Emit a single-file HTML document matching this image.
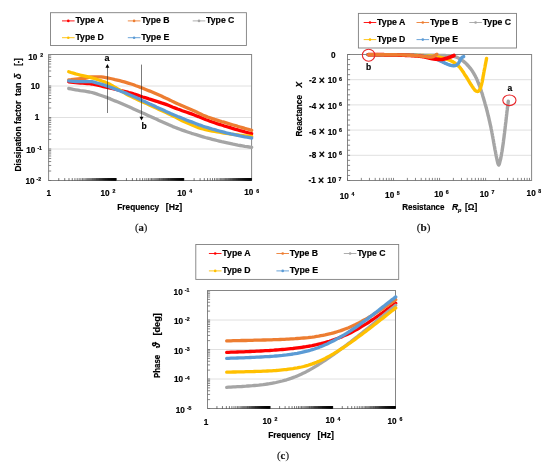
<!DOCTYPE html>
<html><head><meta charset="utf-8"><title>Figure</title>
<style>
html,body{margin:0;padding:0;background:#fff;}
svg{display:block;font-family:"Liberation Sans", sans-serif;}
text{stroke:#000;stroke-width:0.18px;}
.cap{stroke:#111;stroke-width:0.12px;}
</style></head><body>
<svg width="550" height="465" viewBox="0 0 550 465">
<rect width="550" height="465" fill="#fff"/>
<rect x="50.5" y="12.7" width="195.9" height="32.8" fill="#fff" stroke="#7f7f7f" stroke-width="0.9"/>
<line x1="62" y1="20.9" x2="74.6" y2="20.9" stroke="#FF0000" stroke-width="0.9"/>
<circle cx="68.3" cy="20.9" r="1.3" fill="#FF0000"/>
<text x="75.39999999999999" y="23.200000000000003" font-size="8.6" font-weight="bold" fill="#000" textLength="28.3" lengthAdjust="spacingAndGlyphs">Type A</text>
<line x1="127.8" y1="20.9" x2="140.4" y2="20.9" stroke="#ED7D31" stroke-width="0.9"/>
<circle cx="134.1" cy="20.9" r="1.3" fill="#ED7D31"/>
<text x="141.20000000000002" y="23.200000000000003" font-size="8.6" font-weight="bold" fill="#000" textLength="28.3" lengthAdjust="spacingAndGlyphs">Type B</text>
<line x1="192.7" y1="20.9" x2="205.29999999999998" y2="20.9" stroke="#A5A5A5" stroke-width="0.9"/>
<circle cx="199.0" cy="20.9" r="1.3" fill="#A5A5A5"/>
<text x="206.1" y="23.200000000000003" font-size="8.6" font-weight="bold" fill="#000" textLength="28.3" lengthAdjust="spacingAndGlyphs">Type C</text>
<line x1="62" y1="37.7" x2="74.6" y2="37.7" stroke="#FFC000" stroke-width="0.9"/>
<circle cx="68.3" cy="37.7" r="1.3" fill="#FFC000"/>
<text x="75.39999999999999" y="40.0" font-size="8.6" font-weight="bold" fill="#000" textLength="28.3" lengthAdjust="spacingAndGlyphs">Type D</text>
<line x1="127.8" y1="37.7" x2="140.4" y2="37.7" stroke="#5B9BD5" stroke-width="0.9"/>
<circle cx="134.1" cy="37.7" r="1.3" fill="#5B9BD5"/>
<text x="141.20000000000002" y="40.0" font-size="8.6" font-weight="bold" fill="#000" textLength="28.3" lengthAdjust="spacingAndGlyphs">Type E</text>
<rect x="48.6" y="54.5" width="203.0" height="126.0" fill="#fff" stroke="none"/>
<line x1="48.6" y1="86.0" x2="251.6" y2="86.0" stroke="#DDDDDD" stroke-width="0.9"/>
<line x1="48.6" y1="117.5" x2="251.6" y2="117.5" stroke="#DDDDDD" stroke-width="0.9"/>
<line x1="48.6" y1="149.0" x2="251.6" y2="149.0" stroke="#DDDDDD" stroke-width="0.9"/>
<rect x="48.6" y="54.5" width="203.0" height="126.0" fill="none" stroke="#858585" stroke-width="1"/>
<path d="M48.6,86.00h2.6M48.6,76.52h2.6M48.6,70.97h2.6M48.6,67.04h2.6M48.6,63.98h2.6M48.6,61.49h2.6M48.6,59.38h2.6M48.6,57.55h2.6M48.6,55.94h2.6M48.6,117.50h2.6M48.6,108.02h2.6M48.6,102.47h2.6M48.6,98.54h2.6M48.6,95.48h2.6M48.6,92.99h2.6M48.6,90.88h2.6M48.6,89.05h2.6M48.6,87.44h2.6M48.6,149.00h2.6M48.6,139.52h2.6M48.6,133.97h2.6M48.6,130.04h2.6M48.6,126.98h2.6M48.6,124.49h2.6M48.6,122.38h2.6M48.6,120.55h2.6M48.6,118.94h2.6M48.6,180.50h2.6M48.6,171.02h2.6M48.6,165.47h2.6M48.6,161.54h2.6M48.6,158.48h2.6M48.6,155.99h2.6M48.6,153.88h2.6M48.6,152.05h2.6M48.6,150.44h2.6" stroke="#6a6a6a" stroke-width="0.8" fill="none"/>
<path d="M58.78,180.5v-2.4M64.74,180.5v-2.4M68.97,180.5v-2.4M72.25,180.5v-2.4M74.93,180.5v-2.4M77.19,180.5v-2.4M79.15,180.5v-2.4M80.89,180.5v-2.4M82.43,180.5v-2.4M83.83,180.5v-2.4M85.11,180.5v-2.4M86.29,180.5v-2.4M87.38,180.5v-2.4M88.39,180.5v-2.4M89.34,180.5v-2.4M90.23,180.5v-2.4M91.07,180.5v-2.4M91.86,180.5v-2.4M92.62,180.5v-2.4M93.34,180.5v-2.4M94.02,180.5v-2.4M94.67,180.5v-2.4M95.30,180.5v-2.4M95.90,180.5v-2.4M96.47,180.5v-2.4M97.03,180.5v-2.4M97.56,180.5v-2.4M98.08,180.5v-2.4M98.58,180.5v-2.4M99.06,180.5v-2.4M99.52,180.5v-2.4M99.98,180.5v-2.4M100.42,180.5v-2.4M100.84,180.5v-2.4M101.25,180.5v-2.4M101.66,180.5v-2.4M102.05,180.5v-2.4M102.43,180.5v-2.4M102.80,180.5v-2.4M103.17,180.5v-2.4M103.52,180.5v-2.4M103.87,180.5v-2.4M104.20,180.5v-2.4M104.53,180.5v-2.4M104.86,180.5v-2.4M105.17,180.5v-2.4M105.48,180.5v-2.4M105.78,180.5v-2.4M106.08,180.5v-2.4M106.37,180.5v-2.4M106.66,180.5v-2.4M106.94,180.5v-2.4M107.21,180.5v-2.4M107.48,180.5v-2.4M107.75,180.5v-2.4M108.01,180.5v-2.4M108.26,180.5v-2.4M108.51,180.5v-2.4M108.76,180.5v-2.4M109.00,180.5v-2.4M109.24,180.5v-2.4M109.48,180.5v-2.4M109.71,180.5v-2.4M109.94,180.5v-2.4M110.16,180.5v-2.4M110.38,180.5v-2.4M110.60,180.5v-2.4M110.81,180.5v-2.4M111.03,180.5v-2.4M111.23,180.5v-2.4M111.44,180.5v-2.4M111.64,180.5v-2.4M111.84,180.5v-2.4M112.04,180.5v-2.4M112.23,180.5v-2.4M112.43,180.5v-2.4M112.62,180.5v-2.4M112.80,180.5v-2.4M112.99,180.5v-2.4M113.17,180.5v-2.4M113.35,180.5v-2.4M113.53,180.5v-2.4M113.70,180.5v-2.4M113.88,180.5v-2.4M114.05,180.5v-2.4M114.22,180.5v-2.4M114.39,180.5v-2.4M114.55,180.5v-2.4M114.72,180.5v-2.4M114.88,180.5v-2.4M115.04,180.5v-2.4M115.20,180.5v-2.4M115.36,180.5v-2.4M115.51,180.5v-2.4M115.67,180.5v-2.4M115.82,180.5v-2.4M115.97,180.5v-2.4M116.12,180.5v-2.4M126.45,180.5v-2.4M132.41,180.5v-2.4M136.64,180.5v-2.4M139.92,180.5v-2.4M142.59,180.5v-2.4M144.86,180.5v-2.4M146.82,180.5v-2.4M148.55,180.5v-2.4M150.10,180.5v-2.4M151.50,180.5v-2.4M152.78,180.5v-2.4M153.96,180.5v-2.4M155.04,180.5v-2.4M156.06,180.5v-2.4M157.01,180.5v-2.4M157.90,180.5v-2.4M158.74,180.5v-2.4M159.53,180.5v-2.4M160.28,180.5v-2.4M161.00,180.5v-2.4M161.69,180.5v-2.4M162.34,180.5v-2.4M162.96,180.5v-2.4M163.56,180.5v-2.4M164.14,180.5v-2.4M164.69,180.5v-2.4M165.23,180.5v-2.4M165.74,180.5v-2.4M166.24,180.5v-2.4M166.72,180.5v-2.4M167.19,180.5v-2.4M167.64,180.5v-2.4M168.08,180.5v-2.4M168.51,180.5v-2.4M168.92,180.5v-2.4M169.32,180.5v-2.4M169.72,180.5v-2.4M170.10,180.5v-2.4M170.47,180.5v-2.4M170.83,180.5v-2.4M171.19,180.5v-2.4M171.53,180.5v-2.4M171.87,180.5v-2.4M172.20,180.5v-2.4M172.52,180.5v-2.4M172.84,180.5v-2.4M173.15,180.5v-2.4M173.45,180.5v-2.4M173.75,180.5v-2.4M174.04,180.5v-2.4M174.32,180.5v-2.4M174.60,180.5v-2.4M174.88,180.5v-2.4M175.15,180.5v-2.4M175.41,180.5v-2.4M175.67,180.5v-2.4M175.93,180.5v-2.4M176.18,180.5v-2.4M176.43,180.5v-2.4M176.67,180.5v-2.4M176.91,180.5v-2.4M177.14,180.5v-2.4M177.38,180.5v-2.4M177.60,180.5v-2.4M177.83,180.5v-2.4M178.05,180.5v-2.4M178.27,180.5v-2.4M178.48,180.5v-2.4M178.69,180.5v-2.4M178.90,180.5v-2.4M179.11,180.5v-2.4M179.31,180.5v-2.4M179.51,180.5v-2.4M179.71,180.5v-2.4M179.90,180.5v-2.4M180.09,180.5v-2.4M180.28,180.5v-2.4M180.47,180.5v-2.4M180.65,180.5v-2.4M180.84,180.5v-2.4M181.02,180.5v-2.4M181.20,180.5v-2.4M181.37,180.5v-2.4M181.55,180.5v-2.4M181.72,180.5v-2.4M181.89,180.5v-2.4M182.05,180.5v-2.4M182.22,180.5v-2.4M182.39,180.5v-2.4M182.55,180.5v-2.4M182.71,180.5v-2.4M182.87,180.5v-2.4M183.02,180.5v-2.4M183.18,180.5v-2.4M183.33,180.5v-2.4M183.49,180.5v-2.4M183.64,180.5v-2.4M183.79,180.5v-2.4M194.12,180.5v-2.4M200.08,180.5v-2.4M204.30,180.5v-2.4M207.58,180.5v-2.4M210.26,180.5v-2.4M212.53,180.5v-2.4M214.49,180.5v-2.4M216.22,180.5v-2.4M217.77,180.5v-2.4M219.17,180.5v-2.4M220.45,180.5v-2.4M221.62,180.5v-2.4M222.71,180.5v-2.4M223.72,180.5v-2.4M224.67,180.5v-2.4M225.56,180.5v-2.4M226.40,180.5v-2.4M227.20,180.5v-2.4M227.95,180.5v-2.4M228.67,180.5v-2.4M229.35,180.5v-2.4M230.01,180.5v-2.4M230.63,180.5v-2.4M231.23,180.5v-2.4M231.81,180.5v-2.4M232.36,180.5v-2.4M232.90,180.5v-2.4M233.41,180.5v-2.4M233.91,180.5v-2.4M234.39,180.5v-2.4M234.86,180.5v-2.4M235.31,180.5v-2.4M235.75,180.5v-2.4M236.17,180.5v-2.4M236.59,180.5v-2.4M236.99,180.5v-2.4M237.38,180.5v-2.4M237.76,180.5v-2.4M238.14,180.5v-2.4M238.50,180.5v-2.4M238.85,180.5v-2.4M239.20,180.5v-2.4M239.54,180.5v-2.4M239.87,180.5v-2.4M240.19,180.5v-2.4M240.51,180.5v-2.4M240.82,180.5v-2.4M241.12,180.5v-2.4M241.42,180.5v-2.4M241.71,180.5v-2.4M241.99,180.5v-2.4M242.27,180.5v-2.4M242.55,180.5v-2.4M242.82,180.5v-2.4M243.08,180.5v-2.4M243.34,180.5v-2.4M243.60,180.5v-2.4M243.85,180.5v-2.4M244.09,180.5v-2.4M244.34,180.5v-2.4M244.58,180.5v-2.4M244.81,180.5v-2.4M245.04,180.5v-2.4M245.27,180.5v-2.4M245.49,180.5v-2.4M245.72,180.5v-2.4M245.93,180.5v-2.4M246.15,180.5v-2.4M246.36,180.5v-2.4M246.57,180.5v-2.4M246.77,180.5v-2.4M246.98,180.5v-2.4M247.18,180.5v-2.4M247.37,180.5v-2.4M247.57,180.5v-2.4M247.76,180.5v-2.4M247.95,180.5v-2.4M248.14,180.5v-2.4M248.32,180.5v-2.4M248.50,180.5v-2.4M248.68,180.5v-2.4M248.86,180.5v-2.4M249.04,180.5v-2.4M249.21,180.5v-2.4M249.38,180.5v-2.4M249.55,180.5v-2.4M249.72,180.5v-2.4M249.89,180.5v-2.4M250.05,180.5v-2.4M250.21,180.5v-2.4M250.37,180.5v-2.4M250.53,180.5v-2.4M250.69,180.5v-2.4M250.85,180.5v-2.4M251.00,180.5v-2.4M251.15,180.5v-2.4M251.30,180.5v-2.4M251.45,180.5v-2.4" stroke="#000" stroke-width="0.55" fill="none"/>
<path d="M68.7,81.8 L71.0,82.1 L73.3,82.4 L75.6,82.7 L78.0,82.9 L80.3,83.0 L82.6,83.2 L84.9,83.3 L87.2,83.5 L89.5,83.7 L91.9,84.0 L94.2,84.5 L96.5,85.0 L98.8,85.5 L101.1,86.0 L103.4,86.6 L105.8,87.1 L108.1,87.6 L110.4,88.2 L112.7,88.7 L115.0,89.2 L117.3,89.7 L119.7,90.3 L122.0,90.8 L124.3,91.3 L126.6,91.8 L128.9,92.5 L131.2,93.1 L133.6,93.9 L135.9,94.6 L138.2,95.4 L140.5,96.2 L142.8,97.0 L145.1,97.7 L147.5,98.4 L149.8,99.2 L152.1,99.9 L154.4,100.6 L156.7,101.3 L159.0,102.1 L161.4,102.9 L163.7,103.6 L166.0,104.4 L168.3,105.3 L170.6,106.2 L172.9,107.2 L175.3,108.1 L177.6,109.0 L179.9,109.8 L182.2,110.7 L184.5,111.5 L186.8,112.3 L189.2,113.1 L191.5,113.9 L193.8,114.8 L196.1,115.7 L198.4,116.6 L200.7,117.6 L203.1,118.6 L205.4,119.5 L207.7,120.3 L210.0,121.2 L212.3,122.0 L214.6,122.8 L217.0,123.6 L219.3,124.3 L221.6,125.0 L223.9,125.8 L226.2,126.5 L228.5,127.2 L230.9,127.9 L233.2,128.6 L235.5,129.3 L237.8,129.9 L240.1,130.6 L242.4,131.2 L244.8,131.9 L247.1,132.5 L249.4,133.1 L251.7,133.7" fill="none" stroke="#FF0000" stroke-width="3.3" stroke-linecap="round" stroke-linejoin="round"/>
<path d="M68.7,79.8 L71.0,79.6 L73.3,79.3 L75.6,79.1 L78.0,78.9 L80.3,78.7 L82.6,78.5 L84.9,78.3 L87.2,77.8 L89.5,77.2 L91.9,76.9 L94.2,76.9 L96.5,76.9 L98.8,76.9 L101.1,76.9 L103.4,77.2 L105.8,77.6 L108.1,78.0 L110.4,78.5 L112.7,79.0 L115.0,79.6 L117.3,80.1 L119.7,80.7 L122.0,81.3 L124.3,81.9 L126.6,82.6 L128.9,83.3 L131.2,84.0 L133.6,84.8 L135.9,85.7 L138.2,86.5 L140.5,87.4 L142.8,88.3 L145.1,89.2 L147.5,90.2 L149.8,91.1 L152.1,92.1 L154.4,93.1 L156.7,94.1 L159.0,95.1 L161.4,96.1 L163.7,97.2 L166.0,98.3 L168.3,99.3 L170.6,100.4 L172.9,101.6 L175.3,102.7 L177.6,103.8 L179.9,104.8 L182.2,105.8 L184.5,106.8 L186.8,107.8 L189.2,108.8 L191.5,109.8 L193.8,110.8 L196.1,111.8 L198.4,112.9 L200.7,114.0 L203.1,115.2 L205.4,116.1 L207.7,117.0 L210.0,117.8 L212.3,118.6 L214.6,119.4 L217.0,120.1 L219.3,120.9 L221.6,121.6 L223.9,122.2 L226.2,122.9 L228.5,123.6 L230.9,124.3 L233.2,125.0 L235.5,125.7 L237.8,126.4 L240.1,127.0 L242.4,127.7 L244.8,128.4 L247.1,129.0 L249.4,129.7 L251.7,130.3" fill="none" stroke="#ED7D31" stroke-width="3.3" stroke-linecap="round" stroke-linejoin="round"/>
<path d="M68.7,88.5 L71.0,88.9 L73.3,89.4 L75.6,89.8 L78.0,90.2 L80.3,90.6 L82.6,90.9 L84.9,91.2 L87.2,91.6 L89.5,92.0 L91.9,92.5 L94.2,93.2 L96.5,93.9 L98.8,94.7 L101.1,95.5 L103.4,96.3 L105.8,97.1 L108.1,98.0 L110.4,98.9 L112.7,99.9 L115.0,100.9 L117.3,101.8 L119.7,102.8 L122.0,103.8 L124.3,104.8 L126.6,105.8 L128.9,106.8 L131.2,107.8 L133.6,108.9 L135.9,109.9 L138.2,111.0 L140.5,112.0 L142.8,113.1 L145.1,114.1 L147.5,115.2 L149.8,116.2 L152.1,117.2 L154.4,118.3 L156.7,119.3 L159.0,120.4 L161.4,121.4 L163.7,122.4 L166.0,123.5 L168.3,124.6 L170.6,125.6 L172.9,126.6 L175.3,127.5 L177.6,128.4 L179.9,129.2 L182.2,130.1 L184.5,130.9 L186.8,131.7 L189.2,132.5 L191.5,133.3 L193.8,134.0 L196.1,134.7 L198.4,135.4 L200.7,136.1 L203.1,136.8 L205.4,137.5 L207.7,138.1 L210.0,138.7 L212.3,139.3 L214.6,139.9 L217.0,140.5 L219.3,141.1 L221.6,141.7 L223.9,142.2 L226.2,142.7 L228.5,143.2 L230.9,143.7 L233.2,144.2 L235.5,144.6 L237.8,145.1 L240.1,145.5 L242.4,145.9 L244.8,146.3 L247.1,146.6 L249.4,147.0 L251.7,147.3" fill="none" stroke="#A5A5A5" stroke-width="3.3" stroke-linecap="round" stroke-linejoin="round"/>
<path d="M68.7,71.7 L71.0,72.5 L73.3,73.2 L75.6,73.9 L78.0,74.5 L80.3,75.1 L82.6,75.6 L84.9,76.1 L87.2,76.6 L89.5,77.1 L91.9,77.8 L94.2,78.5 L96.5,79.2 L98.8,80.0 L101.1,80.7 L103.4,81.5 L105.8,82.4 L108.1,83.5 L110.4,84.6 L112.7,85.9 L115.0,87.3 L117.3,88.6 L119.7,90.0 L122.0,91.4 L124.3,92.9 L126.6,94.2 L128.9,95.5 L131.2,96.6 L133.6,97.7 L135.9,98.8 L138.2,99.9 L140.5,100.9 L142.8,102.0 L145.1,103.1 L147.5,104.1 L149.8,105.2 L152.1,106.2 L154.4,107.3 L156.7,108.3 L159.0,109.4 L161.4,110.5 L163.7,111.5 L166.0,112.6 L168.3,113.7 L170.6,114.8 L172.9,116.0 L175.3,117.1 L177.6,118.3 L179.9,119.5 L182.2,120.7 L184.5,121.8 L186.8,122.8 L189.2,123.8 L191.5,124.8 L193.8,125.8 L196.1,126.7 L198.4,127.6 L200.7,128.3 L203.1,129.0 L205.4,129.6 L207.7,130.1 L210.0,130.6 L212.3,131.0 L214.6,131.4 L217.0,131.8 L219.3,132.2 L221.6,132.6 L223.9,133.0 L226.2,133.4 L228.5,133.7 L230.9,134.1 L233.2,134.4 L235.5,134.7 L237.8,135.0 L240.1,135.3 L242.4,135.5 L244.8,135.8 L247.1,136.0 L249.4,136.2 L251.7,136.4" fill="none" stroke="#FFC000" stroke-width="3.3" stroke-linecap="round" stroke-linejoin="round"/>
<path d="M68.7,80.9 L71.0,81.1 L73.3,81.4 L75.6,81.5 L78.0,81.6 L80.3,81.6 L82.6,81.6 L84.9,81.6 L87.2,81.6 L89.5,81.6 L91.9,81.7 L94.2,82.2 L96.5,82.9 L98.8,83.5 L101.1,84.1 L103.4,84.8 L105.8,85.6 L108.1,86.3 L110.4,87.2 L112.7,88.1 L115.0,89.0 L117.3,89.9 L119.7,90.8 L122.0,91.7 L124.3,92.5 L126.6,93.4 L128.9,94.4 L131.2,95.4 L133.6,96.5 L135.9,97.5 L138.2,98.6 L140.5,99.7 L142.8,100.8 L145.1,101.8 L147.5,102.9 L149.8,104.0 L152.1,105.0 L154.4,106.1 L156.7,107.2 L159.0,108.2 L161.4,109.3 L163.7,110.3 L166.0,111.4 L168.3,112.4 L170.6,113.5 L172.9,114.5 L175.3,115.5 L177.6,116.5 L179.9,117.4 L182.2,118.3 L184.5,119.3 L186.8,120.2 L189.2,121.1 L191.5,121.9 L193.8,122.8 L196.1,123.7 L198.4,124.6 L200.7,125.4 L203.1,126.3 L205.4,127.0 L207.7,127.7 L210.0,128.4 L212.3,129.1 L214.6,129.7 L217.0,130.4 L219.3,131.0 L221.6,131.6 L223.9,132.2 L226.2,132.8 L228.5,133.3 L230.9,133.9 L233.2,134.4 L235.5,134.9 L237.8,135.4 L240.1,135.9 L242.4,136.3 L244.8,136.8 L247.1,137.2 L249.4,137.6 L251.7,138.0" fill="none" stroke="#5B9BD5" stroke-width="3.3" stroke-linecap="round" stroke-linejoin="round"/>
<line x1="107.5" y1="113" x2="107.5" y2="67" stroke="#222" stroke-width="0.6"/>
<path d="M107.4,64.0 L105.4,67.7 L109.4,67.7 Z" fill="#000"/>
<text x="107.0" y="61.0" font-size="9" font-weight="bold" fill="#000" text-anchor="middle">a</text>
<line x1="141.5" y1="64.6" x2="141.5" y2="117" stroke="#222" stroke-width="0.6"/>
<path d="M141.5,120.4 L139.5,116.7 L143.5,116.7 Z" fill="#000"/>
<text x="144" y="129.4" font-size="8.5" font-weight="bold" fill="#000" text-anchor="middle">b</text>
<text x="37.4" y="59.5" font-size="8.2" font-weight="bold" fill="#000" text-anchor="end">10</text>
<text x="40.3" y="56.7" font-size="5.2" font-weight="bold" fill="#000">2</text>
<text x="39.9" y="88.8" font-size="8.2" font-weight="bold" fill="#000" text-anchor="end">10</text>
<text x="39.4" y="119.9" font-size="8.2" font-weight="bold" fill="#000" text-anchor="end">1</text>
<text x="35.4" y="153.0" font-size="8.2" font-weight="bold" fill="#000" text-anchor="end">10</text>
<text x="37.4" y="150.2" font-size="5.2" font-weight="bold" fill="#000">-1</text>
<text x="34.6" y="184.2" font-size="8.2" font-weight="bold" fill="#000" text-anchor="end">10</text>
<text x="36.6" y="181.39999999999998" font-size="5.2" font-weight="bold" fill="#000">-2</text>
<text x="48.7" y="196.0" font-size="8.2" font-weight="bold" fill="#000" text-anchor="middle">1</text>
<text x="109.5" y="195.5" font-size="8.2" font-weight="bold" fill="#000" text-anchor="end">10</text>
<text x="112.4" y="192.7" font-size="5.2" font-weight="bold" fill="#000">2</text>
<text x="186.4" y="195.5" font-size="8.2" font-weight="bold" fill="#000" text-anchor="end">10</text>
<text x="189.3" y="192.7" font-size="5.2" font-weight="bold" fill="#000">4</text>
<text x="253.4" y="195.4" font-size="8.2" font-weight="bold" fill="#000" text-anchor="end">10</text>
<text x="256.3" y="192.6" font-size="5.2" font-weight="bold" fill="#000">6</text>
<text x="117.3" y="210.1" font-size="8.5" font-weight="bold" fill="#000" textLength="41.8" lengthAdjust="spacingAndGlyphs">Frequency</text>
<text x="165.8" y="210.1" font-size="8.5" font-weight="bold" fill="#000" textLength="16.4" lengthAdjust="spacingAndGlyphs">[Hz]</text>
<g transform="translate(21.2,171.6) rotate(-90)">
<text x="0" y="0" font-size="8.5" font-weight="bold" fill="#000" textLength="70.8" lengthAdjust="spacingAndGlyphs">Dissipation factor</text>
<text x="75.6" y="0" font-size="8.8" font-weight="bold" fill="#000" textLength="13.4" lengthAdjust="spacingAndGlyphs">tan</text>
<text x="92.4" y="0" font-size="9.5" font-weight="bold" fill="#000" font-style="italic">δ</text>
<text x="105.9" y="0" font-size="8.5" font-weight="bold" fill="#000" textLength="7.4" lengthAdjust="spacingAndGlyphs">[-]</text>
</g>
<text x="134.9" y="230.7" font-size="11.3" font-weight="normal" fill="#111" textLength="12.5" lengthAdjust="spacingAndGlyphs" font-family='"Liberation Serif", "DejaVu Serif", serif' class="cap">(<tspan font-weight="bold">a</tspan>)</text>
<rect x="358.4" y="13.4" width="158.10000000000002" height="34.6" fill="#fff" stroke="#7f7f7f" stroke-width="0.9"/>
<line x1="363.7" y1="22.5" x2="376.3" y2="22.5" stroke="#FF0000" stroke-width="0.9"/>
<circle cx="370.0" cy="22.5" r="1.3" fill="#FF0000"/>
<text x="377.1" y="24.8" font-size="8.6" font-weight="bold" fill="#000" textLength="28.3" lengthAdjust="spacingAndGlyphs">Type A</text>
<line x1="416.5" y1="22.5" x2="429.1" y2="22.5" stroke="#ED7D31" stroke-width="0.9"/>
<circle cx="422.8" cy="22.5" r="1.3" fill="#ED7D31"/>
<text x="429.90000000000003" y="24.8" font-size="8.6" font-weight="bold" fill="#000" textLength="28.3" lengthAdjust="spacingAndGlyphs">Type B</text>
<line x1="469.3" y1="22.5" x2="481.90000000000003" y2="22.5" stroke="#A5A5A5" stroke-width="0.9"/>
<circle cx="475.6" cy="22.5" r="1.3" fill="#A5A5A5"/>
<text x="482.70000000000005" y="24.8" font-size="8.6" font-weight="bold" fill="#000" textLength="28.3" lengthAdjust="spacingAndGlyphs">Type C</text>
<line x1="363.7" y1="39.6" x2="376.3" y2="39.6" stroke="#FFC000" stroke-width="0.9"/>
<circle cx="370.0" cy="39.6" r="1.3" fill="#FFC000"/>
<text x="377.1" y="42.0" font-size="8.6" font-weight="bold" fill="#000" textLength="28.3" lengthAdjust="spacingAndGlyphs">Type D</text>
<line x1="416.5" y1="39.6" x2="429.1" y2="39.6" stroke="#5B9BD5" stroke-width="0.9"/>
<circle cx="422.8" cy="39.6" r="1.3" fill="#5B9BD5"/>
<text x="429.90000000000003" y="42.0" font-size="8.6" font-weight="bold" fill="#000" textLength="28.3" lengthAdjust="spacingAndGlyphs">Type E</text>
<rect x="347.5" y="54.5" width="184.10000000000002" height="126.0" fill="#fff" stroke="none"/>
<line x1="347.5" y1="79.7" x2="531.6" y2="79.7" stroke="#DDDDDD" stroke-width="0.9"/>
<line x1="347.5" y1="104.9" x2="531.6" y2="104.9" stroke="#DDDDDD" stroke-width="0.9"/>
<line x1="347.5" y1="130.1" x2="531.6" y2="130.1" stroke="#DDDDDD" stroke-width="0.9"/>
<line x1="347.5" y1="155.3" x2="531.6" y2="155.3" stroke="#DDDDDD" stroke-width="0.9"/>
<rect x="347.5" y="54.5" width="184.10000000000002" height="126.0" fill="none" stroke="#858585" stroke-width="1"/>
<path d="M347.5,54.50h2.6M347.5,59.54h2.6M347.5,64.58h2.6M347.5,69.62h2.6M347.5,74.66h2.6M347.5,79.70h2.6M347.5,84.74h2.6M347.5,89.78h2.6M347.5,94.82h2.6M347.5,99.86h2.6M347.5,104.90h2.6M347.5,109.94h2.6M347.5,114.98h2.6M347.5,120.02h2.6M347.5,125.06h2.6M347.5,130.10h2.6M347.5,135.14h2.6M347.5,140.18h2.6M347.5,145.22h2.6M347.5,150.26h2.6M347.5,155.30h2.6M347.5,160.34h2.6M347.5,165.38h2.6M347.5,170.42h2.6M347.5,175.46h2.6M347.5,180.50h2.6" stroke="#6a6a6a" stroke-width="0.8" fill="none"/>
<path d="M347.50,180.5v-2.6M361.35,180.5v-2.6M369.46,180.5v-2.6M375.21,180.5v-2.6M379.67,180.5v-2.6M383.31,180.5v-2.6M386.40,180.5v-2.6M389.06,180.5v-2.6M391.42,180.5v-2.6M393.52,180.5v-2.6M407.38,180.5v-2.6M415.48,180.5v-2.6M421.23,180.5v-2.6M425.70,180.5v-2.6M429.34,180.5v-2.6M432.42,180.5v-2.6M435.09,180.5v-2.6M437.44,180.5v-2.6M439.55,180.5v-2.6M453.40,180.5v-2.6M461.51,180.5v-2.6M467.26,180.5v-2.6M471.72,180.5v-2.6M475.36,180.5v-2.6M478.45,180.5v-2.6M481.11,180.5v-2.6M483.47,180.5v-2.6M485.58,180.5v-2.6M499.43,180.5v-2.6M507.53,180.5v-2.6M513.28,180.5v-2.6M517.75,180.5v-2.6M521.39,180.5v-2.6M524.47,180.5v-2.6M527.14,180.5v-2.6M529.49,180.5v-2.6" stroke="#6a6a6a" stroke-width="0.8" fill="none"/>
<path d="M368.3,54.6 L369.7,54.6 L371.0,54.6 L372.4,54.6 L373.8,54.7 L375.1,54.7 L376.5,54.7 L377.9,54.7 L379.2,54.7 L380.6,54.7 L382.0,54.7 L383.3,54.7 L384.7,54.8 L386.1,54.8 L387.4,54.8 L388.8,54.8 L390.2,54.8 L391.5,54.8 L392.9,54.8 L394.3,54.8 L395.7,54.9 L397.0,54.9 L398.4,54.9 L399.8,54.9 L401.1,54.9 L402.5,54.9 L403.9,54.9 L405.2,54.9 L406.6,55.0 L408.0,55.0 L409.3,55.0 L410.7,55.0 L412.1,55.0 L413.4,55.0 L414.8,55.0 L416.2,55.0 L417.5,55.1 L418.9,55.1 L420.3,55.1 L421.6,55.1 L423.0,55.1 L424.4,55.1 L425.7,55.1 L427.1,55.2 L428.5,55.2 L429.8,55.2 L431.2,55.2 L432.6,55.2 L433.9,55.3 L435.3,55.3 L436.7,55.3 L438.1,55.3 L439.4,55.4 L440.8,55.4 L442.2,55.5 L443.5,55.5 L444.9,55.5 L446.3,55.6 L447.6,55.7 L449.0,55.7 L450.3,55.8 L451.7,56.0 L453.1,56.2 L454.4,56.6 L455.7,56.9 L457.0,57.3 L458.2,57.9 L459.4,58.6 L460.6,59.3 L461.8,60.1 L462.9,60.9 L463.9,61.7 L465.0,62.6 L466.0,63.5 L467.0,64.5 L467.9,65.5 L468.9,66.6 L469.7,67.6 L470.6,68.7 L471.4,69.7 L472.2,70.9 L472.9,72.0 L473.6,73.2 L474.3,74.4 L475.0,75.6 L475.6,76.8 L476.3,78.0 L476.8,79.2 L477.4,80.5 L477.9,81.8 L478.4,83.0 L478.9,84.3 L479.4,85.6 L479.9,86.9 L480.3,88.2 L480.8,89.5 L481.2,90.8 L481.6,92.1 L482.1,93.4 L482.5,94.7 L482.8,96.0 L483.2,97.3 L483.6,98.6 L484.0,99.9 L484.4,101.2 L484.8,102.6 L485.1,103.9 L485.5,105.2 L485.9,106.5 L486.2,107.8 L486.6,109.1 L486.9,110.5 L487.3,111.8 L487.6,113.1 L487.9,114.4 L488.2,115.8 L488.6,117.1 L488.9,118.4 L489.2,119.8 L489.5,121.1 L489.8,122.4 L490.1,123.8 L490.4,125.1 L490.7,126.4 L491.0,127.8 L491.2,129.1 L491.5,130.5 L491.8,131.8 L492.0,133.1 L492.3,134.5 L492.5,135.8 L492.8,137.2 L493.0,138.5 L493.3,139.9 L493.5,141.2 L493.7,142.6 L494.0,143.9 L494.2,145.3 L494.5,146.6 L494.7,148.0 L494.9,149.3 L495.2,150.6 L495.5,152.0 L495.7,153.3 L496.0,154.7 L496.2,156.0 L496.5,157.4 L496.8,158.7 L497.1,160.0 L497.4,161.4 L497.8,163.1 L498.3,164.5 L498.8,165.0 L499.3,164.1 L499.7,162.5 L500.1,160.9 L500.5,159.6 L500.8,158.2 L501.0,156.9 L501.3,155.6 L501.5,154.2 L501.7,152.9 L502.0,151.5 L502.2,150.2 L502.4,148.8 L502.6,147.5 L502.8,146.1 L503.0,144.7 L503.2,143.4 L503.4,142.0 L503.5,140.7 L503.7,139.3 L503.9,138.0 L504.1,136.6 L504.2,135.2 L504.4,133.9 L504.6,132.5 L504.7,131.2 L504.9,129.8 L505.1,128.5 L505.2,127.1 L505.4,125.7 L505.5,124.4 L505.7,123.0 L505.9,121.7 L506.0,120.3 L506.2,119.0 L506.3,117.6 L506.5,116.2 L506.6,114.9 L506.8,113.5 L506.9,112.2 L507.1,110.8 L507.3,109.4 L507.4,108.1 L507.6,106.7 L507.8,105.4 L508.0,104.0 L508.1,102.7 L508.3,101.3" fill="none" stroke="#A5A5A5" stroke-width="3.4" stroke-linecap="round" stroke-linejoin="round"/>
<path d="M368.3,54.6 L369.1,54.6 L369.9,54.6 L370.7,54.6 L371.5,54.6 L372.3,54.6 L373.1,54.6 L373.9,54.6 L374.7,54.7 L375.5,54.7 L376.3,54.7 L377.1,54.7 L377.9,54.7 L378.7,54.7 L379.5,54.7 L380.3,54.7 L381.1,54.7 L381.9,54.7 L382.7,54.7 L383.5,54.8 L384.3,54.8 L385.1,54.8 L385.9,54.8 L386.7,54.8 L387.6,54.8 L388.4,54.8 L389.2,54.8 L390.0,54.8 L390.8,54.9 L391.6,54.9 L392.4,54.9 L393.2,54.9 L394.0,54.9 L394.8,54.9 L395.6,54.9 L396.4,54.9 L397.2,55.0 L398.0,55.0 L398.8,55.0 L399.6,55.0 L400.4,55.0 L401.2,55.0 L402.0,55.0 L402.8,55.0 L403.6,55.1 L404.4,55.1 L405.2,55.1 L406.0,55.1 L406.8,55.1 L407.6,55.1 L408.4,55.1 L409.2,55.2 L410.0,55.2 L410.8,55.2 L411.6,55.2 L412.4,55.2 L413.2,55.2 L414.0,55.3 L414.8,55.3 L415.6,55.3 L416.4,55.3 L417.2,55.3 L418.0,55.4 L418.8,55.4 L419.6,55.4 L420.4,55.4 L421.2,55.5 L422.0,55.5 L422.8,55.5 L423.6,55.5 L424.4,55.6 L425.2,55.6 L426.0,55.7 L426.8,55.7 L427.6,55.8 L428.4,55.8 L429.2,55.9 L430.0,56.0 L430.8,56.0 L431.6,56.1 L432.4,56.2 L433.2,56.3 L434.0,56.4 L434.8,56.5 L435.6,56.6 L436.4,56.7 L437.2,56.8 L438.0,57.0 L438.8,57.1 L439.6,57.2 L440.4,57.4 L441.2,57.6 L441.9,57.8 L442.7,58.0 L443.5,58.2 L444.3,58.4 L445.0,58.6 L445.8,58.8 L446.6,59.1 L447.4,59.3 L448.1,59.6 L448.9,59.9 L449.6,60.2 L450.3,60.5 L451.0,60.8 L451.7,61.2 L452.5,61.6 L453.2,62.0 L453.9,62.4 L454.6,62.9 L455.2,63.4 L455.9,63.8 L456.5,64.3 L457.2,64.8 L457.8,65.3 L458.3,65.9 L458.9,66.4 L459.4,66.9 L459.9,67.5 L460.4,68.1 L460.9,68.8 L461.4,69.4 L461.9,70.1 L462.3,70.7 L462.8,71.4 L463.2,72.1 L463.7,72.8 L464.1,73.5 L464.5,74.2 L465.0,74.9 L465.4,75.6 L465.9,76.2 L466.3,76.9 L466.7,77.6 L467.2,78.3 L467.6,78.9 L468.0,79.6 L468.4,80.3 L468.8,81.0 L469.2,81.7 L469.6,82.4 L470.1,83.1 L470.5,83.8 L470.9,84.5 L471.3,85.1 L471.8,85.8 L472.2,86.5 L472.7,87.1 L473.1,87.8 L473.6,88.5 L474.1,89.1 L474.6,89.8 L475.1,90.4 L475.7,90.8 L476.4,91.2 L477.2,91.5 L477.9,91.4 L478.7,91.0 L479.3,90.4 L479.7,89.8 L480.1,89.1 L480.4,88.3 L480.7,87.5 L480.9,86.7 L481.1,85.9 L481.3,85.2 L481.6,84.4 L481.7,83.6 L481.9,82.9 L482.1,82.1 L482.3,81.3 L482.4,80.5 L482.6,79.7 L482.7,78.9 L482.9,78.1 L483.0,77.3 L483.1,76.5 L483.3,75.7 L483.4,75.0 L483.6,74.2 L483.7,73.4 L483.8,72.6 L484.0,71.8 L484.1,71.0 L484.3,70.2 L484.5,69.4 L484.6,68.6 L484.8,67.8 L484.9,67.1 L485.1,66.3 L485.2,65.5 L485.4,64.7 L485.5,63.9 L485.7,63.1 L485.8,62.3 L486.0,61.6 L486.1,60.8 L486.3,60.0 L486.4,59.2 L486.6,58.4" fill="none" stroke="#FFC000" stroke-width="3.4" stroke-linecap="round" stroke-linejoin="round"/>
<path d="M367.6,54.6 L368.1,54.6 L368.6,54.6 L369.1,54.6 L369.7,54.6 L370.2,54.6 L370.7,54.6 L371.2,54.6 L371.7,54.6 L372.2,54.6 L372.7,54.6 L373.3,54.6 L373.8,54.6 L374.3,54.6 L374.8,54.6 L375.3,54.7 L375.8,54.7 L376.3,54.7 L376.8,54.7 L377.4,54.7 L377.9,54.7 L378.4,54.7 L378.9,54.7 L379.4,54.7 L379.9,54.7 L380.4,54.7 L381.0,54.7 L381.5,54.7 L382.0,54.7 L382.5,54.7 L383.0,54.7 L383.5,54.7 L384.0,54.8 L384.6,54.8 L385.1,54.8 L385.6,54.8 L386.1,54.8 L386.6,54.8 L387.1,54.8 L387.6,54.8 L388.2,54.8 L388.7,54.8 L389.2,54.8 L389.7,54.8 L390.2,54.8 L390.7,54.8 L391.2,54.9 L391.7,54.9 L392.3,54.9 L392.8,54.9 L393.3,54.9 L393.8,54.9 L394.3,54.9 L394.8,54.9 L395.3,54.9 L395.9,54.9 L396.4,54.9 L396.9,54.9 L397.4,55.0 L397.9,55.0 L398.4,55.0 L398.9,55.0 L399.5,55.0 L400.0,55.0 L400.5,55.0 L401.0,55.0 L401.5,55.0 L402.0,55.0 L402.5,55.0 L403.0,55.1 L403.6,55.1 L404.1,55.1 L404.6,55.1 L405.1,55.1 L405.6,55.1 L406.1,55.1 L406.6,55.1 L407.2,55.1 L407.7,55.1 L408.2,55.1 L408.7,55.2 L409.2,55.2 L409.7,55.2 L410.2,55.2 L410.8,55.2 L411.3,55.2 L411.8,55.2 L412.3,55.2 L412.8,55.2 L413.3,55.3 L413.8,55.3 L414.4,55.3 L414.9,55.3 L415.4,55.3 L415.9,55.3 L416.4,55.4 L416.9,55.4 L417.4,55.4 L417.9,55.4 L418.5,55.4 L419.0,55.5 L419.5,55.5 L420.0,55.5 L420.5,55.5 L421.0,55.6 L421.5,55.6 L422.0,55.6 L422.6,55.7 L423.1,55.7 L423.6,55.8 L424.1,55.9 L424.6,55.9 L425.1,56.0 L425.6,56.1 L426.1,56.1 L426.6,56.2 L427.2,56.3 L427.7,56.4 L428.2,56.5 L428.7,56.6 L429.2,56.6 L429.7,56.7 L430.2,56.8 L430.7,56.9 L431.2,57.1 L431.7,57.2 L432.2,57.3 L432.7,57.5 L433.2,57.7 L433.6,57.8 L434.1,58.0 L434.6,58.2 L435.1,58.3 L435.6,58.5 L436.0,58.7 L436.5,58.9 L437.0,59.1 L437.4,59.4 L437.9,59.6 L438.4,59.8 L438.8,60.1 L439.3,60.3 L439.7,60.6 L440.2,60.8 L440.6,61.0 L441.1,61.3 L441.6,61.5 L442.0,61.7 L442.5,61.9 L443.0,62.2 L443.4,62.4 L443.9,62.6 L444.3,62.8 L444.8,63.1 L445.3,63.3 L445.7,63.5 L446.2,63.7 L446.7,63.9 L447.2,64.1 L447.6,64.3 L448.1,64.5 L448.6,64.7 L449.1,64.9 L449.6,65.0 L450.0,65.1 L450.5,65.3 L451.0,65.4 L451.6,65.5 L452.1,65.6 L452.6,65.7 L453.1,65.8 L453.6,65.8 L454.1,65.8 L454.6,65.7 L455.1,65.6 L455.6,65.4 L456.1,65.3 L456.5,65.0 L457.0,64.7 L457.4,64.4 L457.8,64.0 L458.1,63.7 L458.4,63.3 L458.7,62.9 L459.0,62.4 L459.2,62.0 L459.5,61.5 L459.7,61.0 L459.9,60.6 L460.1,60.1 L460.4,59.6 L460.6,59.2 L460.8,58.7 L461.2,58.3 L461.5,58.0 L461.9,57.6 L462.3,57.3 L462.8,57.0 L463.2,56.8 L463.7,56.6" fill="none" stroke="#5B9BD5" stroke-width="3.4" stroke-linecap="round" stroke-linejoin="round"/>
<path d="M368.3,54.6 L368.7,54.6 L369.2,54.6 L369.6,54.6 L370.0,54.6 L370.5,54.6 L370.9,54.6 L371.4,54.6 L371.8,54.6 L372.2,54.6 L372.7,54.6 L373.1,54.6 L373.5,54.6 L374.0,54.6 L374.4,54.6 L374.8,54.6 L375.3,54.6 L375.7,54.6 L376.1,54.6 L376.6,54.6 L377.0,54.6 L377.5,54.7 L377.9,54.7 L378.3,54.7 L378.8,54.7 L379.2,54.7 L379.6,54.7 L380.1,54.7 L380.5,54.7 L380.9,54.7 L381.4,54.7 L381.8,54.7 L382.2,54.7 L382.7,54.7 L383.1,54.7 L383.5,54.7 L384.0,54.7 L384.4,54.8 L384.9,54.8 L385.3,54.8 L385.7,54.8 L386.2,54.8 L386.6,54.8 L387.0,54.8 L387.5,54.8 L387.9,54.8 L388.3,54.8 L388.8,54.8 L389.2,54.8 L389.6,54.9 L390.1,54.9 L390.5,54.9 L391.0,54.9 L391.4,54.9 L391.8,54.9 L392.3,54.9 L392.7,54.9 L393.1,54.9 L393.6,54.9 L394.0,55.0 L394.4,55.0 L394.9,55.0 L395.3,55.0 L395.7,55.0 L396.2,55.0 L396.6,55.0 L397.0,55.0 L397.5,55.0 L397.9,55.0 L398.4,55.1 L398.8,55.1 L399.2,55.1 L399.7,55.1 L400.1,55.1 L400.5,55.1 L401.0,55.1 L401.4,55.1 L401.8,55.2 L402.3,55.2 L402.7,55.2 L403.1,55.2 L403.6,55.2 L404.0,55.2 L404.4,55.2 L404.9,55.3 L405.3,55.3 L405.8,55.3 L406.2,55.3 L406.6,55.3 L407.1,55.3 L407.5,55.4 L407.9,55.4 L408.4,55.4 L408.8,55.4 L409.2,55.4 L409.7,55.5 L410.1,55.5 L410.5,55.5 L411.0,55.5 L411.4,55.6 L411.9,55.6 L412.3,55.6 L412.7,55.6 L413.2,55.7 L413.6,55.7 L414.0,55.7 L414.5,55.8 L414.9,55.8 L415.3,55.8 L415.8,55.9 L416.2,55.9 L416.6,55.9 L417.1,56.0 L417.5,56.0 L417.9,56.0 L418.4,56.1 L418.8,56.1 L419.2,56.1 L419.7,56.2 L420.1,56.2 L420.5,56.3 L421.0,56.3 L421.4,56.4 L421.8,56.4 L422.3,56.5 L422.7,56.6 L423.1,56.6 L423.5,56.7 L424.0,56.8 L424.4,56.9 L424.8,57.0 L425.3,57.1 L425.7,57.1 L426.1,57.2 L426.5,57.4 L426.9,57.5 L427.4,57.6 L427.8,57.7 L428.2,57.8 L428.6,57.9 L429.1,58.0 L429.5,58.1 L429.9,58.2 L430.3,58.3 L430.8,58.4 L431.2,58.4 L431.6,58.5 L432.0,58.6 L432.5,58.7 L432.9,58.8 L433.3,58.8 L433.8,58.9 L434.2,59.0 L434.6,59.0 L435.1,59.1 L435.5,59.2 L435.9,59.2 L436.4,59.2 L436.8,59.3 L437.2,59.3 L437.7,59.3 L438.1,59.4 L438.5,59.4 L439.0,59.4 L439.4,59.5 L439.8,59.5 L440.3,59.5 L440.7,59.5 L441.1,59.5 L441.6,59.5 L442.0,59.5 L442.4,59.4 L442.9,59.3 L443.3,59.2 L443.7,59.1 L444.1,59.0 L444.5,58.9 L445.0,58.7 L445.4,58.6 L445.8,58.5 L446.2,58.3 L446.6,58.2 L447.1,58.1 L447.5,58.0 L447.9,57.8 L448.3,57.7 L448.7,57.6 L449.2,57.4 L449.6,57.3 L450.0,57.2 L450.4,57.0 L450.8,56.9 L451.2,56.7 L451.6,56.6 L452.0,56.4 L452.4,56.2 L452.8,56.1 L453.2,55.9 L453.6,55.7 L454.0,55.5" fill="none" stroke="#FF0000" stroke-width="3.7" stroke-linecap="round" stroke-linejoin="round"/>
<path d="M368.3,54.6 L368.6,54.6 L369.0,54.6 L369.3,54.6 L369.7,54.6 L370.0,54.6 L370.4,54.6 L370.7,54.6 L371.1,54.6 L371.4,54.6 L371.8,54.6 L372.1,54.6 L372.5,54.6 L372.8,54.6 L373.2,54.6 L373.5,54.6 L373.9,54.6 L374.2,54.6 L374.6,54.6 L374.9,54.6 L375.3,54.6 L375.6,54.6 L376.0,54.6 L376.3,54.6 L376.7,54.6 L377.0,54.6 L377.4,54.6 L377.7,54.6 L378.1,54.6 L378.4,54.6 L378.8,54.6 L379.1,54.6 L379.4,54.6 L379.8,54.6 L380.1,54.6 L380.5,54.6 L380.8,54.7 L381.2,54.7 L381.5,54.7 L381.9,54.7 L382.2,54.7 L382.6,54.7 L382.9,54.7 L383.3,54.7 L383.6,54.7 L384.0,54.7 L384.3,54.7 L384.7,54.7 L385.0,54.7 L385.4,54.7 L385.7,54.7 L386.1,54.7 L386.4,54.7 L386.8,54.7 L387.1,54.7 L387.5,54.7 L387.8,54.7 L388.2,54.7 L388.5,54.7 L388.9,54.7 L389.2,54.7 L389.5,54.7 L389.9,54.7 L390.2,54.8 L390.6,54.8 L390.9,54.8 L391.3,54.8 L391.6,54.8 L392.0,54.8 L392.3,54.8 L392.7,54.8 L393.0,54.8 L393.4,54.8 L393.7,54.8 L394.1,54.8 L394.4,54.8 L394.8,54.8 L395.1,54.8 L395.5,54.8 L395.8,54.8 L396.2,54.8 L396.5,54.8 L396.9,54.8 L397.2,54.9 L397.6,54.9 L397.9,54.9 L398.2,54.9 L398.6,54.9 L398.9,54.9 L399.3,54.9 L399.6,54.9 L400.0,54.9 L400.3,54.9 L400.7,54.9 L401.0,54.9 L401.4,54.9 L401.7,54.9 L402.1,54.9 L402.4,55.0 L402.8,55.0 L403.1,55.0 L403.5,55.0 L403.8,55.0 L404.2,55.0 L404.5,55.0 L404.9,55.0 L405.2,55.1 L405.6,55.1 L405.9,55.1 L406.3,55.1 L406.6,55.1 L407.0,55.1 L407.3,55.2 L407.6,55.2 L408.0,55.2 L408.3,55.2 L408.7,55.2 L409.0,55.2 L409.4,55.3 L409.7,55.3 L410.1,55.3 L410.4,55.3 L410.8,55.3 L411.1,55.4 L411.5,55.4 L411.8,55.4 L412.2,55.4 L412.5,55.4 L412.9,55.5 L413.2,55.5 L413.6,55.5 L413.9,55.5 L414.3,55.6 L414.6,55.6 L414.9,55.6 L415.3,55.6 L415.6,55.6 L416.0,55.7 L416.3,55.7 L416.7,55.7 L417.0,55.7 L417.4,55.8 L417.7,55.8 L418.1,55.8 L418.4,55.9 L418.8,55.9 L419.1,55.9 L419.5,55.9 L419.8,56.0 L420.2,56.0 L420.5,56.0 L420.8,56.1 L421.2,56.1 L421.5,56.1 L421.9,56.2 L422.2,56.2 L422.6,56.3 L422.9,56.3 L423.3,56.3 L423.6,56.4 L424.0,56.4 L424.3,56.4 L424.7,56.5 L425.0,56.5 L425.4,56.5 L425.7,56.6 L426.0,56.6 L426.4,56.7 L426.7,56.7 L427.1,56.8 L427.4,56.9 L427.8,56.9 L428.1,57.0 L428.5,57.0 L428.8,57.0 L429.2,57.1 L429.5,57.1 L429.8,57.1 L430.2,57.1 L430.5,57.1 L430.9,57.1 L431.2,57.0 L431.6,57.0 L431.9,56.9 L432.3,56.8 L432.6,56.8 L432.9,56.7 L433.3,56.6 L433.6,56.4 L433.9,56.2 L434.2,56.1 L434.5,55.9 L434.8,55.7 L435.1,55.5 L435.4,55.3 L435.7,55.1 L436.0,54.9 L436.2,54.7 L436.5,54.5 L436.8,54.3" fill="none" stroke="#ED7D31" stroke-width="3.4" stroke-linecap="round" stroke-linejoin="round"/>
<ellipse cx="368.6" cy="55.2" rx="6.2" ry="6.0" fill="none" stroke="#E8262A" stroke-width="1.1"/>
<ellipse cx="509.4" cy="100.3" rx="6.6" ry="5.3" fill="none" stroke="#E8262A" stroke-width="1.1"/>
<text x="368.7" y="69.7" font-size="8.5" font-weight="bold" fill="#000" text-anchor="middle">b</text>
<text x="509.8" y="91.0" font-size="8.5" font-weight="bold" fill="#000" text-anchor="middle">a</text>
<text x="335.6" y="57.9" font-size="8.2" font-weight="bold" fill="#000" text-anchor="end">0</text>
<text x="336.9" y="83.4" font-size="8.2" font-weight="bold" fill="#000" text-anchor="end">10</text>
<text x="339.0" y="80.60000000000001" font-size="5.2" font-weight="bold" fill="#000">6</text>
<text x="324.8" y="84.0" font-size="10.4" font-weight="bold" fill="#000" text-anchor="end">×</text>
<text x="316.3" y="83.4" font-size="8.2" font-weight="bold" fill="#000" text-anchor="end">-2</text>
<text x="336.9" y="108.9" font-size="8.2" font-weight="bold" fill="#000" text-anchor="end">10</text>
<text x="339.0" y="106.10000000000001" font-size="5.2" font-weight="bold" fill="#000">6</text>
<text x="324.8" y="109.5" font-size="10.4" font-weight="bold" fill="#000" text-anchor="end">×</text>
<text x="316.3" y="108.9" font-size="8.2" font-weight="bold" fill="#000" text-anchor="end">-4</text>
<text x="336.9" y="134.6" font-size="8.2" font-weight="bold" fill="#000" text-anchor="end">10</text>
<text x="339.0" y="131.79999999999998" font-size="5.2" font-weight="bold" fill="#000">6</text>
<text x="324.8" y="135.2" font-size="10.4" font-weight="bold" fill="#000" text-anchor="end">×</text>
<text x="316.3" y="134.6" font-size="8.2" font-weight="bold" fill="#000" text-anchor="end">-6</text>
<text x="336.9" y="157.5" font-size="8.2" font-weight="bold" fill="#000" text-anchor="end">10</text>
<text x="339.0" y="154.7" font-size="5.2" font-weight="bold" fill="#000">6</text>
<text x="324.8" y="158.1" font-size="10.4" font-weight="bold" fill="#000" text-anchor="end">×</text>
<text x="316.3" y="157.5" font-size="8.2" font-weight="bold" fill="#000" text-anchor="end">-8</text>
<text x="336.3" y="183.4" font-size="8.2" font-weight="bold" fill="#000" text-anchor="end">10</text>
<text x="338.40000000000003" y="180.6" font-size="5.2" font-weight="bold" fill="#000">7</text>
<text x="324.20000000000005" y="184.0" font-size="10.4" font-weight="bold" fill="#000" text-anchor="end">×</text>
<text x="315.70000000000005" y="183.4" font-size="8.2" font-weight="bold" fill="#000" text-anchor="end">-1</text>
<text x="348.9" y="198.7" font-size="8.2" font-weight="bold" fill="#000" text-anchor="end">10</text>
<text x="351.4" y="195.89999999999998" font-size="5.2" font-weight="bold" fill="#000">4</text>
<text x="394.2" y="198.2" font-size="8.2" font-weight="bold" fill="#000" text-anchor="end">10</text>
<text x="396.7" y="195.39999999999998" font-size="5.2" font-weight="bold" fill="#000">5</text>
<text x="443.3" y="197.2" font-size="8.2" font-weight="bold" fill="#000" text-anchor="end">10</text>
<text x="445.8" y="194.39999999999998" font-size="5.2" font-weight="bold" fill="#000">6</text>
<text x="488.9" y="196.6" font-size="8.2" font-weight="bold" fill="#000" text-anchor="end">10</text>
<text x="491.4" y="193.79999999999998" font-size="5.2" font-weight="bold" fill="#000">7</text>
<text x="535.7" y="195.5" font-size="8.2" font-weight="bold" fill="#000" text-anchor="end">10</text>
<text x="538.2" y="192.7" font-size="5.2" font-weight="bold" fill="#000">8</text>
<text x="402.2" y="209.5" font-size="8.5" font-weight="bold" fill="#000" textLength="42.3" lengthAdjust="spacingAndGlyphs">Resistance</text>
<text x="452.0" y="209.5" font-size="8.5" font-weight="bold" fill="#000" font-style="italic">R</text>
<text x="457.9" y="211.6" font-size="5.5" font-weight="bold" fill="#000" font-style="italic">p</text>
<text x="465.1" y="209.5" font-size="8.5" font-weight="bold" fill="#000" textLength="12.2" lengthAdjust="spacingAndGlyphs">[Ω]</text>
<g transform="translate(302.2,136.4) rotate(-90)">
<text x="0" y="0" font-size="8.5" font-weight="bold" fill="#000" textLength="41.4" lengthAdjust="spacingAndGlyphs">Reactance</text>
<text x="49.0" y="0" font-size="8.5" font-weight="bold" fill="#000" font-style="italic">X</text>
</g>
<text x="416.7" y="230.7" font-size="11.3" font-weight="normal" fill="#111" textLength="13.7" lengthAdjust="spacingAndGlyphs" font-family='"Liberation Serif", "DejaVu Serif", serif' class="cap">(<tspan font-weight="bold">b</tspan>)</text>
<rect x="195.8" y="244.5" width="202.89999999999998" height="34.89999999999998" fill="#fff" stroke="#7f7f7f" stroke-width="0.9"/>
<line x1="208.9" y1="253.5" x2="221.5" y2="253.5" stroke="#FF0000" stroke-width="0.9"/>
<circle cx="215.20000000000002" cy="253.5" r="1.3" fill="#FF0000"/>
<text x="222.3" y="255.79999999999998" font-size="8.6" font-weight="bold" fill="#000" textLength="28.3" lengthAdjust="spacingAndGlyphs">Type A</text>
<line x1="276.4" y1="253.5" x2="289.0" y2="253.5" stroke="#ED7D31" stroke-width="0.9"/>
<circle cx="282.7" cy="253.5" r="1.3" fill="#ED7D31"/>
<text x="289.8" y="255.79999999999998" font-size="8.6" font-weight="bold" fill="#000" textLength="28.3" lengthAdjust="spacingAndGlyphs">Type B</text>
<line x1="343.8" y1="253.5" x2="356.40000000000003" y2="253.5" stroke="#A5A5A5" stroke-width="0.9"/>
<circle cx="350.1" cy="253.5" r="1.3" fill="#A5A5A5"/>
<text x="357.20000000000005" y="255.79999999999998" font-size="8.6" font-weight="bold" fill="#000" textLength="28.3" lengthAdjust="spacingAndGlyphs">Type C</text>
<line x1="208.9" y1="270.9" x2="221.5" y2="270.9" stroke="#FFC000" stroke-width="0.9"/>
<circle cx="215.20000000000002" cy="270.9" r="1.3" fill="#FFC000"/>
<text x="222.3" y="273.20000000000005" font-size="8.6" font-weight="bold" fill="#000" textLength="28.3" lengthAdjust="spacingAndGlyphs">Type D</text>
<line x1="276.4" y1="270.9" x2="289.0" y2="270.9" stroke="#5B9BD5" stroke-width="0.9"/>
<circle cx="282.7" cy="270.9" r="1.3" fill="#5B9BD5"/>
<text x="289.8" y="273.20000000000005" font-size="8.6" font-weight="bold" fill="#000" textLength="28.3" lengthAdjust="spacingAndGlyphs">Type E</text>
<rect x="207.5" y="290.5" width="188.0" height="118.0" fill="#fff" stroke="none"/>
<line x1="207.5" y1="320.0" x2="395.5" y2="320.0" stroke="#DDDDDD" stroke-width="0.9"/>
<line x1="207.5" y1="349.5" x2="395.5" y2="349.5" stroke="#DDDDDD" stroke-width="0.9"/>
<line x1="207.5" y1="379.0" x2="395.5" y2="379.0" stroke="#DDDDDD" stroke-width="0.9"/>
<rect x="207.5" y="290.5" width="188.0" height="118.0" fill="none" stroke="#858585" stroke-width="1"/>
<path d="M207.5,320.00h2.6M207.5,311.12h2.6M207.5,305.92h2.6M207.5,302.24h2.6M207.5,299.38h2.6M207.5,297.04h2.6M207.5,295.07h2.6M207.5,293.36h2.6M207.5,291.85h2.6M207.5,349.50h2.6M207.5,340.62h2.6M207.5,335.42h2.6M207.5,331.74h2.6M207.5,328.88h2.6M207.5,326.54h2.6M207.5,324.57h2.6M207.5,322.86h2.6M207.5,321.35h2.6M207.5,379.00h2.6M207.5,370.12h2.6M207.5,364.92h2.6M207.5,361.24h2.6M207.5,358.38h2.6M207.5,356.04h2.6M207.5,354.07h2.6M207.5,352.36h2.6M207.5,350.85h2.6M207.5,408.50h2.6M207.5,399.62h2.6M207.5,394.42h2.6M207.5,390.74h2.6M207.5,387.88h2.6M207.5,385.54h2.6M207.5,383.57h2.6M207.5,381.86h2.6M207.5,380.35h2.6" stroke="#6a6a6a" stroke-width="0.8" fill="none"/>
<path d="M216.93,408.5v-2.4M222.45,408.5v-2.4M226.36,408.5v-2.4M229.40,408.5v-2.4M231.88,408.5v-2.4M233.98,408.5v-2.4M235.80,408.5v-2.4M237.40,408.5v-2.4M238.83,408.5v-2.4M240.13,408.5v-2.4M241.31,408.5v-2.4M242.40,408.5v-2.4M243.41,408.5v-2.4M244.35,408.5v-2.4M245.23,408.5v-2.4M246.05,408.5v-2.4M246.83,408.5v-2.4M247.57,408.5v-2.4M248.27,408.5v-2.4M248.93,408.5v-2.4M249.56,408.5v-2.4M250.17,408.5v-2.4M250.75,408.5v-2.4M251.30,408.5v-2.4M251.84,408.5v-2.4M252.35,408.5v-2.4M252.84,408.5v-2.4M253.32,408.5v-2.4M253.78,408.5v-2.4M254.23,408.5v-2.4M254.66,408.5v-2.4M255.08,408.5v-2.4M255.49,408.5v-2.4M255.88,408.5v-2.4M256.26,408.5v-2.4M256.64,408.5v-2.4M257.00,408.5v-2.4M257.35,408.5v-2.4M257.70,408.5v-2.4M258.03,408.5v-2.4M258.36,408.5v-2.4M258.68,408.5v-2.4M258.99,408.5v-2.4M259.30,408.5v-2.4M259.60,408.5v-2.4M259.89,408.5v-2.4M260.18,408.5v-2.4M260.46,408.5v-2.4M260.73,408.5v-2.4M261.00,408.5v-2.4M261.27,408.5v-2.4M261.53,408.5v-2.4M261.78,408.5v-2.4M262.03,408.5v-2.4M262.28,408.5v-2.4M262.52,408.5v-2.4M262.75,408.5v-2.4M262.99,408.5v-2.4M263.22,408.5v-2.4M263.44,408.5v-2.4M263.66,408.5v-2.4M263.88,408.5v-2.4M264.09,408.5v-2.4M264.30,408.5v-2.4M264.51,408.5v-2.4M264.72,408.5v-2.4M264.92,408.5v-2.4M265.12,408.5v-2.4M265.31,408.5v-2.4M265.51,408.5v-2.4M265.70,408.5v-2.4M265.88,408.5v-2.4M266.07,408.5v-2.4M266.25,408.5v-2.4M266.43,408.5v-2.4M266.61,408.5v-2.4M266.79,408.5v-2.4M266.96,408.5v-2.4M267.13,408.5v-2.4M267.30,408.5v-2.4M267.47,408.5v-2.4M267.63,408.5v-2.4M267.79,408.5v-2.4M267.96,408.5v-2.4M268.11,408.5v-2.4M268.27,408.5v-2.4M268.43,408.5v-2.4M268.58,408.5v-2.4M268.73,408.5v-2.4M268.88,408.5v-2.4M269.03,408.5v-2.4M269.18,408.5v-2.4M269.32,408.5v-2.4M269.47,408.5v-2.4M269.61,408.5v-2.4M269.75,408.5v-2.4M269.89,408.5v-2.4M270.03,408.5v-2.4M279.60,408.5v-2.4M285.12,408.5v-2.4M289.03,408.5v-2.4M292.07,408.5v-2.4M294.55,408.5v-2.4M296.65,408.5v-2.4M298.46,408.5v-2.4M300.07,408.5v-2.4M301.50,408.5v-2.4M302.80,408.5v-2.4M303.98,408.5v-2.4M305.07,408.5v-2.4M306.08,408.5v-2.4M307.02,408.5v-2.4M307.90,408.5v-2.4M308.72,408.5v-2.4M309.50,408.5v-2.4M310.23,408.5v-2.4M310.93,408.5v-2.4M311.60,408.5v-2.4M312.23,408.5v-2.4M312.83,408.5v-2.4M313.41,408.5v-2.4M313.97,408.5v-2.4M314.50,408.5v-2.4M315.02,408.5v-2.4M315.51,408.5v-2.4M315.99,408.5v-2.4M316.45,408.5v-2.4M316.90,408.5v-2.4M317.33,408.5v-2.4M317.75,408.5v-2.4M318.15,408.5v-2.4M318.55,408.5v-2.4M318.93,408.5v-2.4M319.30,408.5v-2.4M319.67,408.5v-2.4M320.02,408.5v-2.4M320.36,408.5v-2.4M320.70,408.5v-2.4M321.03,408.5v-2.4M321.35,408.5v-2.4M321.66,408.5v-2.4M321.97,408.5v-2.4M322.27,408.5v-2.4M322.56,408.5v-2.4M322.85,408.5v-2.4M323.13,408.5v-2.4M323.40,408.5v-2.4M323.67,408.5v-2.4M323.93,408.5v-2.4M324.19,408.5v-2.4M324.45,408.5v-2.4M324.70,408.5v-2.4M324.94,408.5v-2.4M325.18,408.5v-2.4M325.42,408.5v-2.4M325.65,408.5v-2.4M325.88,408.5v-2.4M326.11,408.5v-2.4M326.33,408.5v-2.4M326.55,408.5v-2.4M326.76,408.5v-2.4M326.97,408.5v-2.4M327.18,408.5v-2.4M327.38,408.5v-2.4M327.59,408.5v-2.4M327.78,408.5v-2.4M327.98,408.5v-2.4M328.17,408.5v-2.4M328.36,408.5v-2.4M328.55,408.5v-2.4M328.74,408.5v-2.4M328.92,408.5v-2.4M329.10,408.5v-2.4M329.28,408.5v-2.4M329.45,408.5v-2.4M329.63,408.5v-2.4M329.80,408.5v-2.4M329.97,408.5v-2.4M330.13,408.5v-2.4M330.30,408.5v-2.4M330.46,408.5v-2.4M330.62,408.5v-2.4M330.78,408.5v-2.4M330.94,408.5v-2.4M331.09,408.5v-2.4M331.25,408.5v-2.4M331.40,408.5v-2.4M331.55,408.5v-2.4M331.70,408.5v-2.4M331.85,408.5v-2.4M331.99,408.5v-2.4M332.14,408.5v-2.4M332.28,408.5v-2.4M332.42,408.5v-2.4M332.56,408.5v-2.4M332.70,408.5v-2.4M342.27,408.5v-2.4M347.78,408.5v-2.4M351.70,408.5v-2.4M354.73,408.5v-2.4M357.22,408.5v-2.4M359.31,408.5v-2.4M361.13,408.5v-2.4M362.73,408.5v-2.4M364.17,408.5v-2.4M365.46,408.5v-2.4M366.65,408.5v-2.4M367.74,408.5v-2.4M368.75,408.5v-2.4M369.68,408.5v-2.4M370.56,408.5v-2.4M371.39,408.5v-2.4M372.17,408.5v-2.4M372.90,408.5v-2.4M373.60,408.5v-2.4M374.26,408.5v-2.4M374.90,408.5v-2.4M375.50,408.5v-2.4M376.08,408.5v-2.4M376.64,408.5v-2.4M377.17,408.5v-2.4M377.68,408.5v-2.4M378.18,408.5v-2.4M378.66,408.5v-2.4M379.12,408.5v-2.4M379.56,408.5v-2.4M379.99,408.5v-2.4M380.41,408.5v-2.4M380.82,408.5v-2.4M381.21,408.5v-2.4M381.60,408.5v-2.4M381.97,408.5v-2.4M382.33,408.5v-2.4M382.69,408.5v-2.4M383.03,408.5v-2.4M383.37,408.5v-2.4M383.70,408.5v-2.4M384.02,408.5v-2.4M384.33,408.5v-2.4M384.63,408.5v-2.4M384.93,408.5v-2.4M385.23,408.5v-2.4M385.51,408.5v-2.4M385.79,408.5v-2.4M386.07,408.5v-2.4M386.34,408.5v-2.4M386.60,408.5v-2.4M386.86,408.5v-2.4M387.12,408.5v-2.4M387.36,408.5v-2.4M387.61,408.5v-2.4M387.85,408.5v-2.4M388.09,408.5v-2.4M388.32,408.5v-2.4M388.55,408.5v-2.4M388.77,408.5v-2.4M388.99,408.5v-2.4M389.21,408.5v-2.4M389.43,408.5v-2.4M389.64,408.5v-2.4M389.85,408.5v-2.4M390.05,408.5v-2.4M390.25,408.5v-2.4M390.45,408.5v-2.4M390.65,408.5v-2.4M390.84,408.5v-2.4M391.03,408.5v-2.4M391.22,408.5v-2.4M391.40,408.5v-2.4M391.59,408.5v-2.4M391.77,408.5v-2.4M391.94,408.5v-2.4M392.12,408.5v-2.4M392.29,408.5v-2.4M392.46,408.5v-2.4M392.63,408.5v-2.4M392.80,408.5v-2.4M392.96,408.5v-2.4M393.13,408.5v-2.4M393.29,408.5v-2.4M393.45,408.5v-2.4M393.60,408.5v-2.4M393.76,408.5v-2.4M393.91,408.5v-2.4M394.07,408.5v-2.4M394.22,408.5v-2.4M394.37,408.5v-2.4M394.51,408.5v-2.4M394.66,408.5v-2.4M394.80,408.5v-2.4M394.94,408.5v-2.4M395.09,408.5v-2.4M395.23,408.5v-2.4M395.36,408.5v-2.4" stroke="#000" stroke-width="0.55" fill="none"/>
<path d="M226.7,352.4 L228.8,352.3 L231.0,352.2 L233.1,352.2 L235.3,352.1 L237.4,352.0 L239.5,351.9 L241.7,351.8 L243.8,351.8 L246.0,351.7 L248.1,351.6 L250.2,351.5 L252.4,351.4 L254.5,351.3 L256.6,351.2 L258.8,351.1 L260.9,351.0 L263.1,350.9 L265.2,350.7 L267.3,350.6 L269.5,350.5 L271.6,350.3 L273.8,350.2 L275.9,350.0 L278.0,349.9 L280.2,349.7 L282.3,349.5 L284.5,349.3 L286.6,349.1 L288.7,348.9 L290.9,348.7 L293.0,348.5 L295.2,348.2 L297.3,347.9 L299.4,347.6 L301.6,347.3 L303.7,347.0 L305.9,346.7 L308.0,346.3 L310.1,346.0 L312.3,345.6 L314.4,345.1 L316.5,344.7 L318.7,344.2 L320.8,343.7 L323.0,343.1 L325.1,342.5 L327.2,341.9 L329.4,341.3 L331.5,340.6 L333.7,339.8 L335.8,339.0 L337.9,338.3 L340.1,337.4 L342.2,336.6 L344.4,335.6 L346.5,334.7 L348.6,333.7 L350.8,332.7 L352.9,331.6 L355.1,330.4 L357.2,329.2 L359.3,328.0 L361.5,326.7 L363.6,325.4 L365.8,324.1 L367.9,322.8 L370.0,321.4 L372.2,319.9 L374.3,318.5 L376.4,317.0 L378.6,315.5 L380.7,314.0 L382.9,312.5 L385.0,311.0 L387.1,309.4 L389.3,307.9 L391.4,306.3 L393.6,304.8 L395.7,303.2" fill="none" stroke="#FF0000" stroke-width="3.3" stroke-linecap="round" stroke-linejoin="round"/>
<path d="M226.7,340.9 L228.8,340.8 L231.0,340.8 L233.1,340.7 L235.3,340.7 L237.4,340.6 L239.5,340.6 L241.7,340.5 L243.8,340.5 L246.0,340.5 L248.1,340.4 L250.2,340.4 L252.4,340.3 L254.5,340.2 L256.6,340.2 L258.8,340.1 L260.9,340.1 L263.1,340.0 L265.2,340.0 L267.3,339.9 L269.5,339.8 L271.6,339.8 L273.8,339.7 L275.9,339.6 L278.0,339.6 L280.2,339.5 L282.3,339.4 L284.5,339.3 L286.6,339.2 L288.7,339.1 L290.9,338.9 L293.0,338.8 L295.2,338.7 L297.3,338.5 L299.4,338.4 L301.6,338.2 L303.7,338.0 L305.9,337.8 L308.0,337.6 L310.1,337.3 L312.3,337.1 L314.4,336.8 L316.5,336.4 L318.7,336.1 L320.8,335.7 L323.0,335.3 L325.1,334.9 L327.2,334.4 L329.4,333.9 L331.5,333.4 L333.7,332.8 L335.8,332.2 L337.9,331.5 L340.1,330.9 L342.2,330.1 L344.4,329.3 L346.5,328.5 L348.6,327.7 L350.8,326.7 L352.9,325.8 L355.1,324.8 L357.2,323.7 L359.3,322.6 L361.5,321.5 L363.6,320.3 L365.8,319.1 L367.9,317.9 L370.0,316.6 L372.2,315.3 L374.3,314.0 L376.4,312.7 L378.6,311.3 L380.7,309.9 L382.9,308.5 L385.0,307.0 L387.1,305.6 L389.3,304.1 L391.4,302.6 L393.6,301.1 L395.7,299.6" fill="none" stroke="#ED7D31" stroke-width="3.3" stroke-linecap="round" stroke-linejoin="round"/>
<path d="M226.7,387.3 L228.8,387.2 L231.0,387.1 L233.1,386.9 L235.3,386.8 L237.4,386.7 L239.5,386.6 L241.7,386.5 L243.8,386.3 L246.0,386.2 L248.1,386.0 L250.2,385.8 L252.4,385.7 L254.5,385.5 L256.6,385.3 L258.8,385.1 L260.9,384.8 L263.1,384.6 L265.2,384.3 L267.3,384.0 L269.5,383.7 L271.6,383.3 L273.8,382.9 L275.9,382.5 L278.0,382.0 L280.2,381.5 L282.3,381.0 L284.5,380.4 L286.6,379.8 L288.7,379.1 L290.9,378.4 L293.0,377.6 L295.2,376.8 L297.3,375.9 L299.4,375.0 L301.6,374.0 L303.7,372.9 L305.9,371.9 L308.0,370.8 L310.1,369.6 L312.3,368.4 L314.4,367.1 L316.5,365.8 L318.7,364.5 L320.8,363.1 L323.0,361.7 L325.1,360.3 L327.2,358.9 L329.4,357.4 L331.5,355.9 L333.7,354.3 L335.8,352.8 L337.9,351.3 L340.1,349.7 L342.2,348.2 L344.4,346.6 L346.5,345.0 L348.6,343.4 L350.8,341.8 L352.9,340.1 L355.1,338.4 L357.2,336.8 L359.3,335.1 L361.5,333.4 L363.6,331.6 L365.8,329.9 L367.9,328.2 L370.0,326.5 L372.2,324.7 L374.3,322.9 L376.4,321.1 L378.6,319.4 L380.7,317.6 L382.9,315.8 L385.0,314.0 L387.1,312.3 L389.3,310.5 L391.4,308.7 L393.6,307.0 L395.7,305.2" fill="none" stroke="#A5A5A5" stroke-width="3.3" stroke-linecap="round" stroke-linejoin="round"/>
<path d="M226.7,372.2 L228.8,372.1 L231.0,372.1 L233.1,372.0 L235.3,372.0 L237.4,371.9 L239.5,371.9 L241.7,371.8 L243.8,371.8 L246.0,371.7 L248.1,371.7 L250.2,371.6 L252.4,371.6 L254.5,371.5 L256.6,371.4 L258.8,371.4 L260.9,371.3 L263.1,371.2 L265.2,371.1 L267.3,371.0 L269.5,370.9 L271.6,370.8 L273.8,370.6 L275.9,370.5 L278.0,370.3 L280.2,370.1 L282.3,369.9 L284.5,369.7 L286.6,369.5 L288.7,369.2 L290.9,368.9 L293.0,368.6 L295.2,368.2 L297.3,367.9 L299.4,367.4 L301.6,367.0 L303.7,366.5 L305.9,365.9 L308.0,365.3 L310.1,364.6 L312.3,363.9 L314.4,363.1 L316.5,362.3 L318.7,361.4 L320.8,360.4 L323.0,359.4 L325.1,358.4 L327.2,357.3 L329.4,356.1 L331.5,354.9 L333.7,353.7 L335.8,352.4 L337.9,351.1 L340.1,349.7 L342.2,348.3 L344.4,346.9 L346.5,345.5 L348.6,344.0 L350.8,342.5 L352.9,341.0 L355.1,339.4 L357.2,337.8 L359.3,336.2 L361.5,334.6 L363.6,333.0 L365.8,331.4 L367.9,329.8 L370.0,328.1 L372.2,326.5 L374.3,324.8 L376.4,323.1 L378.6,321.4 L380.7,319.8 L382.9,318.1 L385.0,316.4 L387.1,314.7 L389.3,313.0 L391.4,311.3 L393.6,309.6 L395.7,307.9" fill="none" stroke="#FFC000" stroke-width="3.3" stroke-linecap="round" stroke-linejoin="round"/>
<path d="M226.7,358.4 L228.8,358.3 L231.0,358.2 L233.1,358.2 L235.3,358.1 L237.4,358.0 L239.5,357.9 L241.7,357.8 L243.8,357.8 L246.0,357.7 L248.1,357.6 L250.2,357.5 L252.4,357.4 L254.5,357.3 L256.6,357.2 L258.8,357.1 L260.9,357.0 L263.1,356.9 L265.2,356.7 L267.3,356.6 L269.5,356.5 L271.6,356.3 L273.8,356.2 L275.9,356.0 L278.0,355.8 L280.2,355.6 L282.3,355.4 L284.5,355.1 L286.6,354.9 L288.7,354.6 L290.9,354.3 L293.0,354.0 L295.2,353.6 L297.3,353.3 L299.4,352.8 L301.6,352.4 L303.7,351.9 L305.9,351.4 L308.0,350.9 L310.1,350.3 L312.3,349.6 L314.4,349.0 L316.5,348.2 L318.7,347.5 L320.8,346.6 L323.0,345.8 L325.1,344.8 L327.2,343.9 L329.4,342.8 L331.5,341.8 L333.7,340.7 L335.8,339.5 L337.9,338.4 L340.1,337.2 L342.2,335.9 L344.4,334.7 L346.5,333.4 L348.6,332.0 L350.8,330.7 L352.9,329.2 L355.1,327.8 L357.2,326.3 L359.3,324.8 L361.5,323.2 L363.6,321.7 L365.8,320.1 L367.9,318.6 L370.0,316.9 L372.2,315.3 L374.3,313.6 L376.4,312.0 L378.6,310.3 L380.7,308.6 L382.9,306.9 L385.0,305.3 L387.1,303.6 L389.3,301.9 L391.4,300.2 L393.6,298.6 L395.7,296.9" fill="none" stroke="#5B9BD5" stroke-width="3.3" stroke-linecap="round" stroke-linejoin="round"/>
<text x="182.7" y="295.0" font-size="8.2" font-weight="bold" fill="#000" text-anchor="end">10</text>
<text x="184.7" y="292.2" font-size="5.2" font-weight="bold" fill="#000">-1</text>
<text x="183.0" y="323.9" font-size="8.2" font-weight="bold" fill="#000" text-anchor="end">10</text>
<text x="185.0" y="321.09999999999997" font-size="5.2" font-weight="bold" fill="#000">-2</text>
<text x="183.0" y="354.0" font-size="8.2" font-weight="bold" fill="#000" text-anchor="end">10</text>
<text x="185.0" y="351.2" font-size="5.2" font-weight="bold" fill="#000">-3</text>
<text x="183.0" y="382.3" font-size="8.2" font-weight="bold" fill="#000" text-anchor="end">10</text>
<text x="185.0" y="379.5" font-size="5.2" font-weight="bold" fill="#000">-4</text>
<text x="184.9" y="412.7" font-size="8.2" font-weight="bold" fill="#000" text-anchor="end">10</text>
<text x="186.9" y="409.9" font-size="5.2" font-weight="bold" fill="#000">-5</text>
<text x="206.0" y="425.2" font-size="8.2" font-weight="bold" fill="#000" text-anchor="middle">1</text>
<text x="271.5" y="424.2" font-size="8.2" font-weight="bold" fill="#000" text-anchor="end">10</text>
<text x="274.4" y="421.4" font-size="5.2" font-weight="bold" fill="#000">2</text>
<text x="334.5" y="423.4" font-size="8.2" font-weight="bold" fill="#000" text-anchor="end">10</text>
<text x="337.4" y="420.59999999999997" font-size="5.2" font-weight="bold" fill="#000">4</text>
<text x="396.6" y="423.5" font-size="8.2" font-weight="bold" fill="#000" text-anchor="end">10</text>
<text x="399.5" y="420.7" font-size="5.2" font-weight="bold" fill="#000">6</text>
<text x="268.2" y="438.2" font-size="8.5" font-weight="bold" fill="#000" textLength="42.3" lengthAdjust="spacingAndGlyphs">Frequency</text>
<text x="317.6" y="438.2" font-size="8.5" font-weight="bold" fill="#000" textLength="16.4" lengthAdjust="spacingAndGlyphs">[Hz]</text>
<g transform="translate(160.3,378.0) rotate(-90)">
<text x="0" y="0" font-size="8.5" font-weight="bold" fill="#000" textLength="23.2" lengthAdjust="spacingAndGlyphs">Phase</text>
<text x="30.0" y="0" font-size="10" font-weight="bold" fill="#000" font-style="italic">ϑ</text>
<text x="42.4" y="0" font-size="8.5" font-weight="bold" fill="#000" textLength="22.4" lengthAdjust="spacingAndGlyphs">[deg]</text>
</g>
<text x="277.0" y="458.8" font-size="11.3" font-weight="normal" fill="#111" textLength="12.0" lengthAdjust="spacingAndGlyphs" font-family='"Liberation Serif", "DejaVu Serif", serif' class="cap">(<tspan font-weight="bold">c</tspan>)</text>
</svg>
</body></html>
